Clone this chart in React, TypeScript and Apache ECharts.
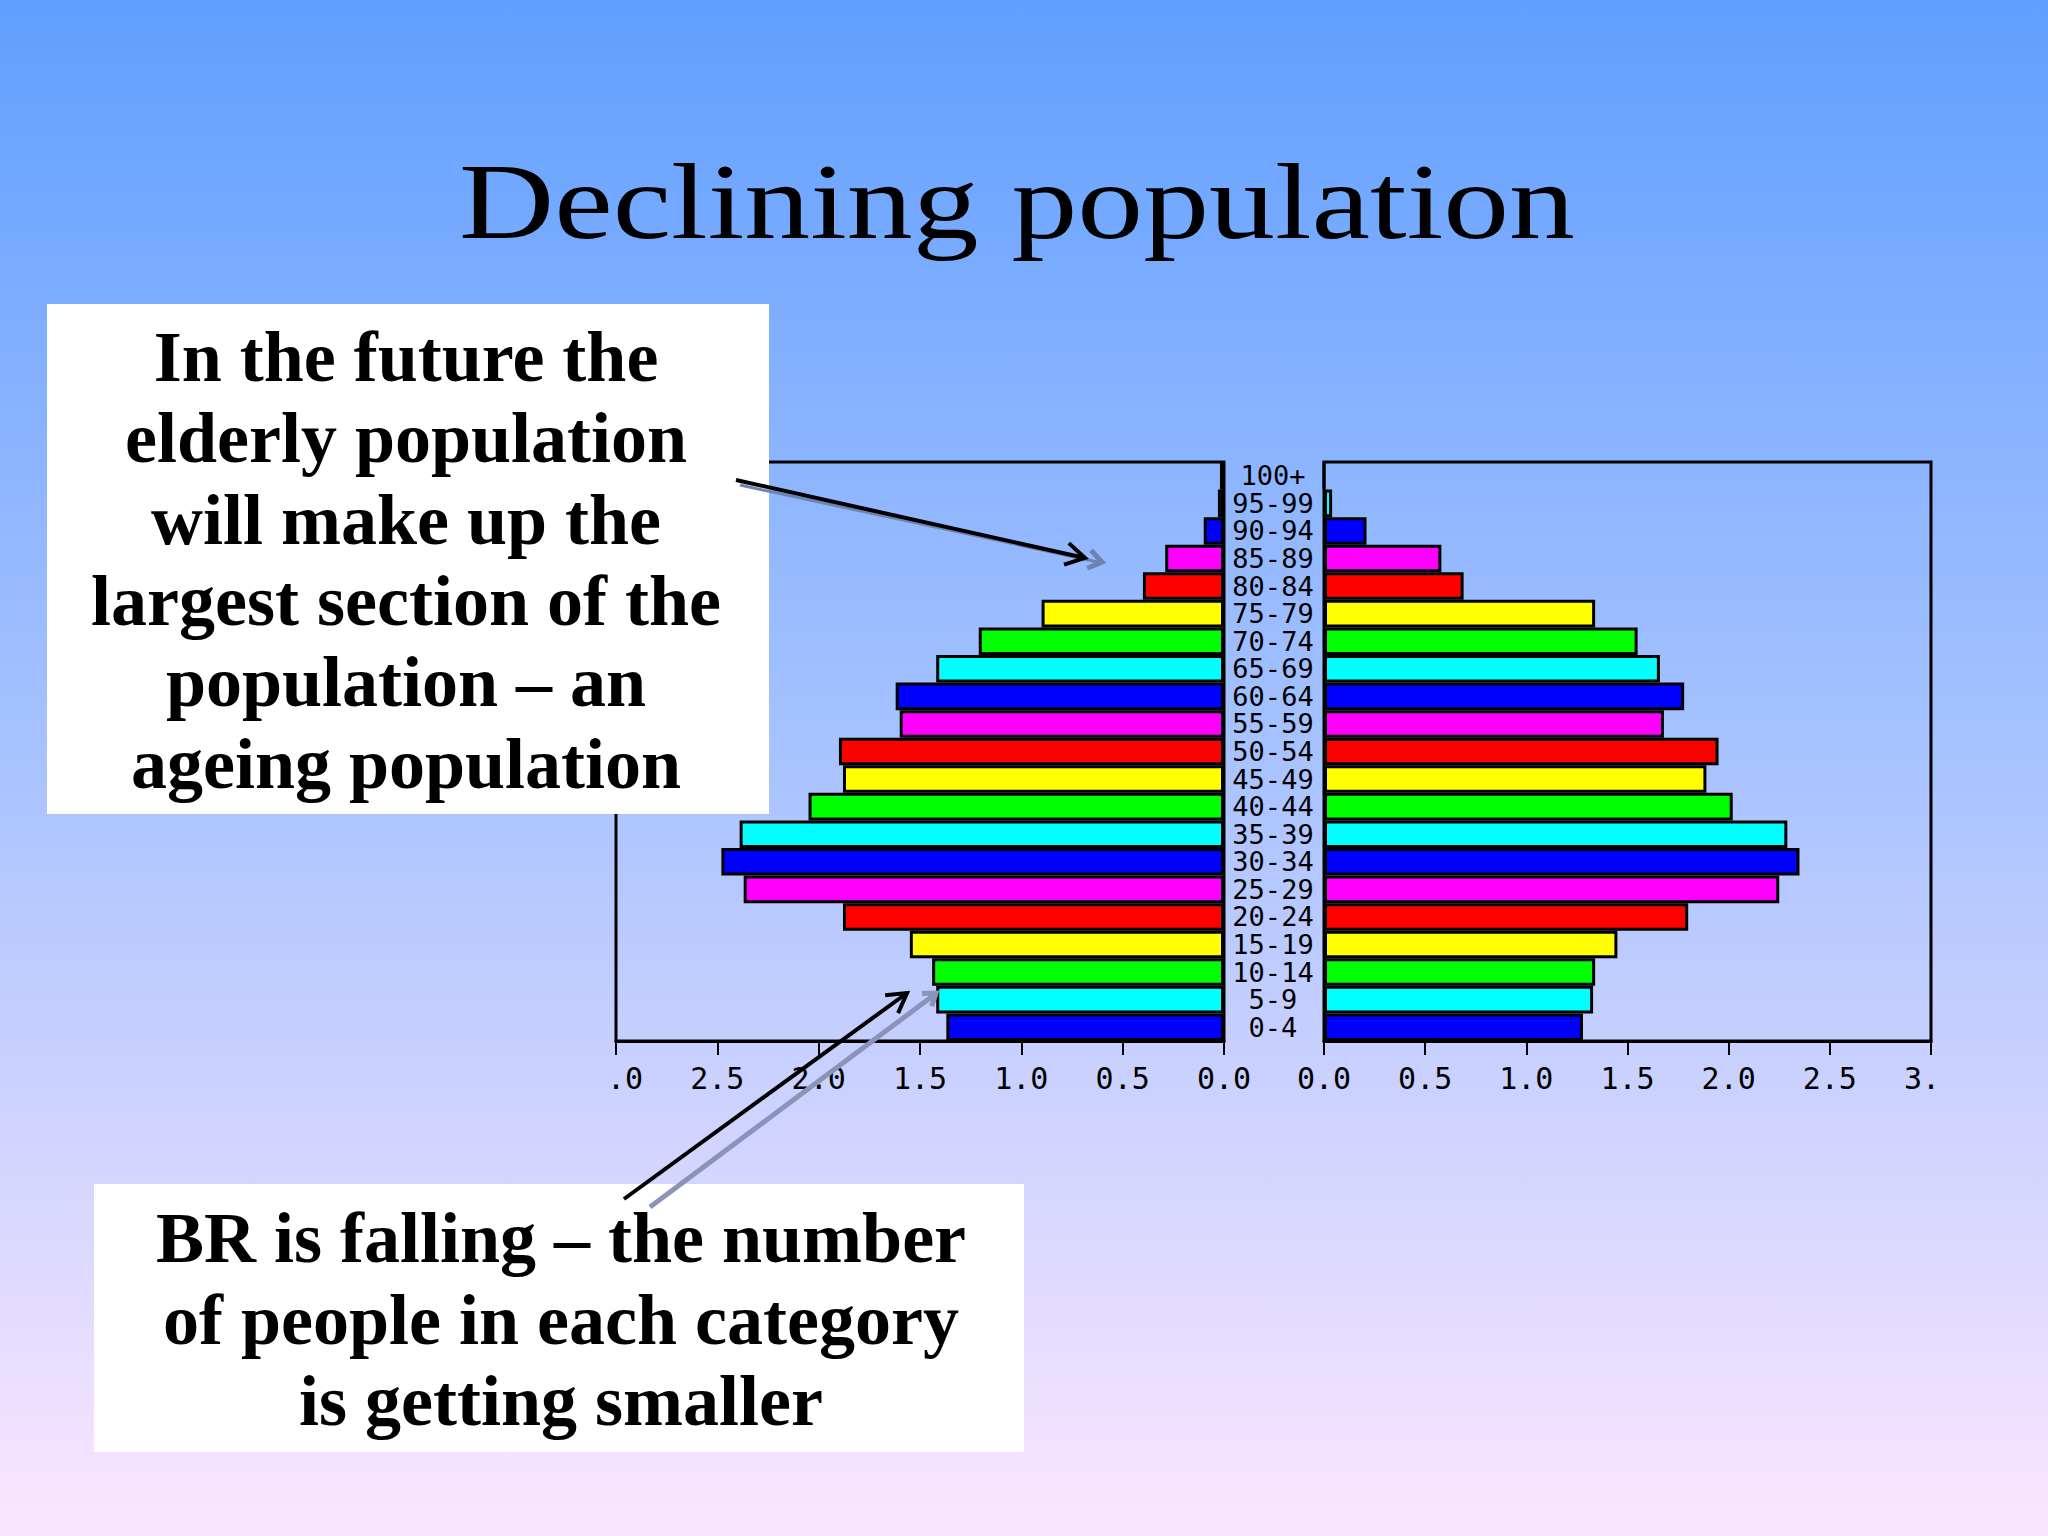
import React, { useEffect, useRef } from 'react';
import * as echarts from 'echarts';

// ---- data ----
const ageGroups = [
  '0-4', '5-9', '10-14', '15-19', '20-24', '25-29', '30-34', '35-39', '40-44', '45-49',
  '50-54', '55-59', '60-64', '65-69', '70-74', '75-79', '80-84', '85-89', '90-94', '95-99', '100+',
];
const leftValues = [
  1.37, 1.42, 1.44, 1.55, 1.88, 2.37, 2.48, 2.39, 2.05, 1.88,
  1.9, 1.6, 1.62, 1.42, 1.21, 0.9, 0.4, 0.29, 0.1, 0.03, 0.02,
];
const rightValues = [
  1.28, 1.33, 1.34, 1.45, 1.8, 2.25, 2.35, 2.29, 2.02, 1.89,
  1.95, 1.68, 1.78, 1.66, 1.55, 1.34, 0.69, 0.58, 0.21, 0.04, 0,
];
const barPalette = ['#0000FF', '#00FFFF', '#00FF00', '#FFFF00', '#FF0000', '#FF00FF'];
const axisMin = 0;
const axisMax = 3;
const axisInterval = 0.5;

const titleText = 'Declining population';
const noteTop = [
  'In the future the',
  'elderly population',
  'will make up the',
  'largest section of the',
  'population – an',
  'ageing population',
];
const noteBottom = [
  'BR is falling – the number',
  'of people in each category',
  'is getting smaller',
];

const MONO = '"DejaVu Sans Mono", "Liberation Mono", monospace';
const SERIF = '"Liberation Serif", "DejaVu Serif", serif';

function chevron(fx: number, fy: number, tx: number, ty: number, len: number, deg: number) {
  const a = Math.atan2(ty - fy, tx - fx);
  const r = (deg * Math.PI) / 180;
  return [
    [tx - len * Math.cos(a - r), ty - len * Math.sin(a - r)],
    [tx, ty],
    [tx - len * Math.cos(a + r), ty - len * Math.sin(a + r)],
  ];
}

function tickLabel(side: 'l' | 'r') {
  return (v: number) => {
    if (v === axisMax) return side === 'l' ? '{l|.0}' : '{r|3.}';
    return v.toFixed(1);
  };
}

export default function App() {
  const ref = useRef<HTMLDivElement>(null);

  useEffect(() => {
    if (!ref.current) return;
    const chart = echarts.init(ref.current, null, { renderer: 'svg' });

    const labelStyle = { fontFamily: MONO, fontSize: 30, color: '#000' };
    const xAxisBase = {
      type: 'value' as const,
      min: axisMin,
      max: axisMax,
      interval: axisInterval,
      splitLine: { show: false },
      axisLine: { show: true, onZero: false, lineStyle: { color: '#000', width: 3 } },
      axisTick: { show: true, length: 14, lineStyle: { color: '#000', width: 2 } },
    };

    const makeData = (vals: number[]) =>
      vals.map((v, i) => ({ value: v, itemStyle: { color: barPalette[i % barPalette.length] } }));

    const textLines = (lines: string[], cx: number, y0: number, step: number) =>
      lines.map((t, i) => ({
        type: 'text',
        x: cx,
        y: y0 + i * step,
        z: 110,
        style: {
          text: t,
          font: `bold 72px ${SERIF}`,
          fill: '#000',
          textAlign: 'center',
          textVerticalAlign: 'middle',
        },
      }));

    chart.setOption({
      animation: false,
      backgroundColor: 'transparent',
      grid: [
        { left: 616, top: 462, width: 608, height: 579, show: true, borderColor: '#000', borderWidth: 3, backgroundColor: 'transparent' },
        { left: 1324, top: 462, width: 607, height: 579, show: true, borderColor: '#000', borderWidth: 3, backgroundColor: 'transparent' },
      ],
      xAxis: [
        {
          ...xAxisBase,
          gridIndex: 0,
          inverse: true,
          axisLabel: {
            ...labelStyle,
            margin: 22,
            formatter: tickLabel('l'),
            rich: { l: { ...labelStyle, padding: [0, 0, 0, 18] } },
          },
        },
        {
          ...xAxisBase,
          gridIndex: 1,
          axisLabel: {
            ...labelStyle,
            margin: 22,
            formatter: tickLabel('r'),
            rich: { r: { ...labelStyle, padding: [0, 18, 0, 0] } },
          },
        },
      ],
      yAxis: [
        {
          gridIndex: 0,
          type: 'category',
          data: ageGroups,
          axisLine: { show: false },
          axisTick: { show: false },
          axisLabel: { show: false },
          splitLine: { show: false },
        },
        {
          gridIndex: 1,
          type: 'category',
          data: ageGroups,
          axisLine: { show: false },
          axisTick: { show: false },
          splitLine: { show: false },
          axisLabel: {
            show: true,
            interval: 0,
            align: 'center',
            margin: 51,
            fontFamily: MONO,
            fontSize: 27,
            color: '#000',
          },
        },
      ],
      series: [
        {
          type: 'bar',
          xAxisIndex: 0,
          yAxisIndex: 0,
          barCategoryGap: '0%',
          data: makeData(leftValues),
          itemStyle: { borderColor: '#000', borderWidth: 3 },
        },
        {
          type: 'bar',
          xAxisIndex: 1,
          yAxisIndex: 1,
          barCategoryGap: '0%',
          data: makeData(rightValues),
          itemStyle: { borderColor: '#000', borderWidth: 3 },
        },
      ],
      graphic: [
        {
          type: 'text',
          x: 1017,
          y: 202,
          scaleX: 1.22,
          z: 100,
          style: {
            text: titleText,
            font: `normal 108px ${SERIF}`,
            fill: '#000',
            textAlign: 'center',
            textVerticalAlign: 'middle',
          },
        },
        { type: 'rect', z: 100, shape: { x: 47, y: 304, width: 722, height: 510 }, style: { fill: '#fff' } },
        { type: 'rect', z: 100, shape: { x: 94, y: 1184, width: 930, height: 268 }, style: { fill: '#fff' } },
        ...textLines(noteTop, 406, 357, 81.3),
        ...textLines(noteBottom, 561, 1238, 81.5),
        // arrow 1 (shadow + arrow)
        { type: 'line', z: 120, shape: { x1: 740, y1: 485, x2: 1098, y2: 562 }, style: { stroke: '#6D84B2', lineWidth: 3 } },
        { type: 'polyline', z: 120, shape: { points: chevron(740, 485, 1102, 562, 16, 35) }, style: { stroke: '#6D84B2', lineWidth: 5, fill: null } },
        { type: 'line', z: 121, shape: { x1: 736, y1: 480, x2: 1085, y2: 558 }, style: { stroke: '#000', lineWidth: 4 } },
        { type: 'polyline', z: 121, shape: { points: chevron(736, 480, 1085, 558, 22, 30) }, style: { stroke: '#000', lineWidth: 4, fill: null } },
        // arrow 2 (shadow + arrow)
        { type: 'line', z: 120, shape: { x1: 650, y1: 1207, x2: 934, y2: 995 }, style: { stroke: '#8A94B8', lineWidth: 5 } },
        { type: 'polyline', z: 120, shape: { points: chevron(650, 1207, 936, 993, 14, 35) }, style: { stroke: '#8A94B8', lineWidth: 5, fill: null } },
        { type: 'line', z: 121, shape: { x1: 624, y1: 1199, x2: 907, y2: 993 }, style: { stroke: '#000', lineWidth: 4 } },
        { type: 'polyline', z: 121, shape: { points: chevron(624, 1199, 907, 993, 22, 30) }, style: { stroke: '#000', lineWidth: 4, fill: null } },
      ],
    });

    return () => chart.dispose();
  }, []);

  return (
    <div
      ref={ref}
      style={{
        position: 'fixed',
        left: 0,
        top: 0,
        width: 2048,
        height: 1536,
        background: 'linear-gradient(to bottom, #609FFF 0%, #A9C3FF 50%, #FBE6FF 100%)',
      }}
    />
  );
}
